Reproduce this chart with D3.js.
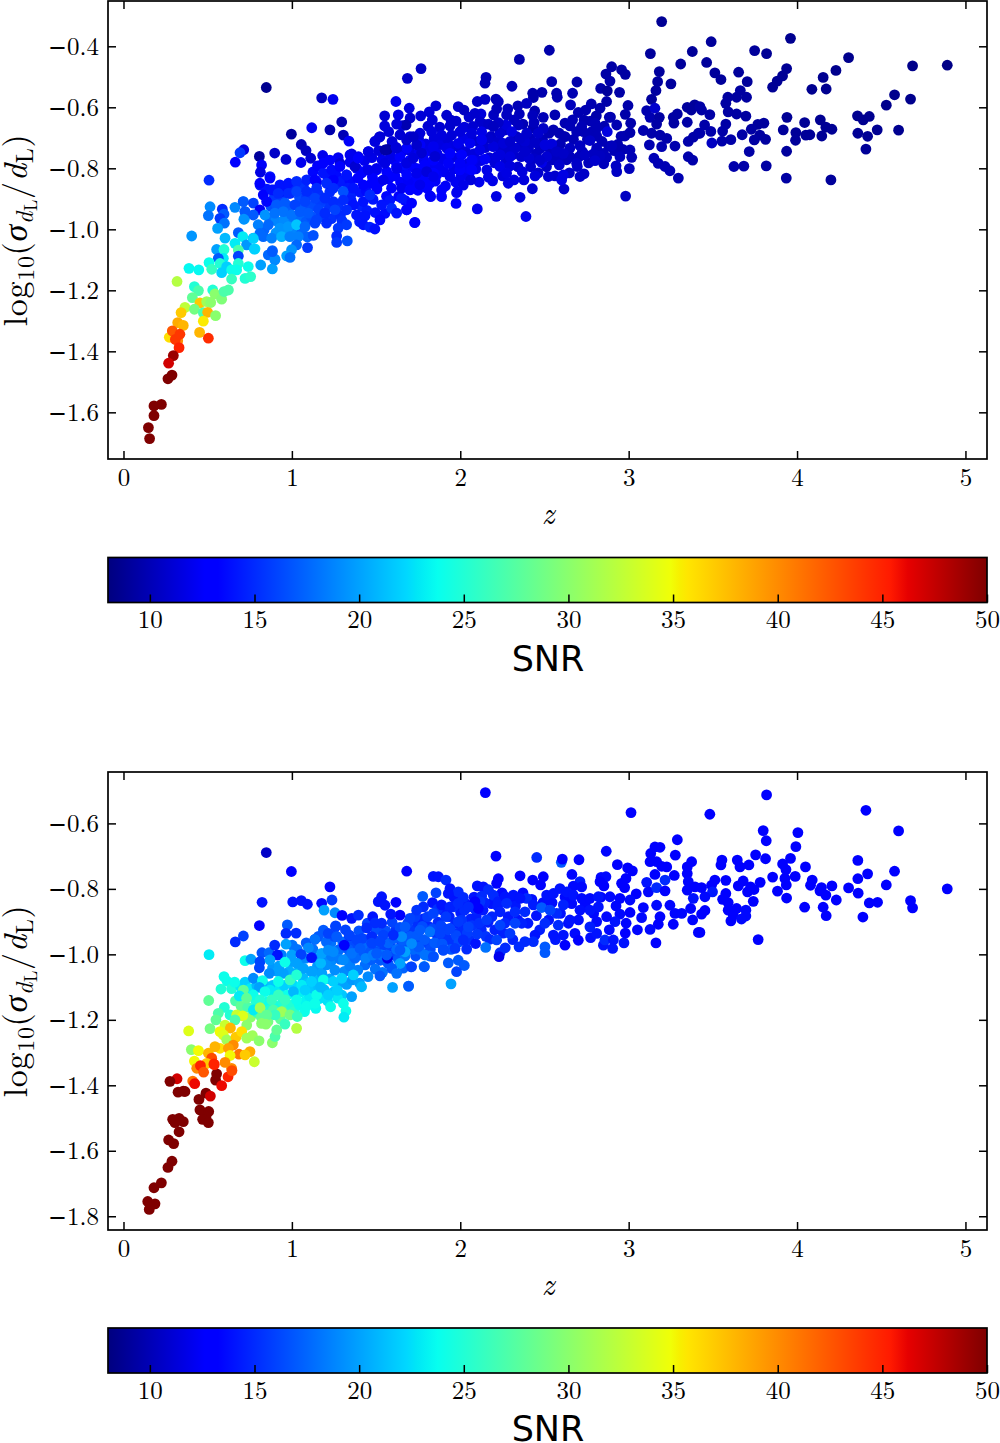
<!DOCTYPE html>
<html>
<head>
<meta charset="utf-8">
<script src="https://cdn.jsdelivr.net/npm/d3@7"></script>
<style>
  html, body { margin: 0; padding: 0; background: #fff; }
  svg { display: block; }
  text { font-family: "Latin Modern Roman", "CMU Serif", "Liberation Serif", serif; fill: #000; }
</style>
</head>
<body>
<svg id="chart" width="1000" height="1443"></svg>
<script>
// Each row: [redshift z, log10(sigma_dL / dL), SNR]. Upper panel.
const upperFar = [
[3.490,-0.385,9],[3.748,-0.414,9],[3.819,-0.424,8.8],[3.961,-0.374,8.6],[3.463,-0.453,9],[3.512,-0.487,9],[3.548,-0.509,9],
[3.653,-0.485,9],[3.704,-0.516,9],[3.938,-0.473,8.8],[3.914,-0.497,8.8],[3.882,-0.514,8.8],[3.855,-0.534,8.8],[3.663,-0.545,9.2],
[3.589,-0.567,9.2],[3.700,-0.567,9.2],[3.641,-0.567,9.2],[3.577,-0.587,9.3],[4.088,-0.541,8.6],[4.173,-0.540,8.6],[4.155,-0.502,8.6],
[4.231,-0.479,8.5],[4.306,-0.437,8.5],[4.686,-0.464,8.4],[4.892,-0.462,8.3],[4.579,-0.559,8.5],[4.674,-0.573,8.5],[4.530,-0.593,8.5],
[4.359,-0.628,8.6],[4.393,-0.641,8.6],[4.429,-0.630,8.6],[3.940,-0.633,8.8],[4.045,-0.650,8.8],[4.138,-0.641,8.7],[3.423,-0.598,9.4],
[3.433,-0.609,9.4],[3.482,-0.624,9.4],[3.591,-0.615,9.3],[3.641,-0.622,9.3],[3.696,-0.629,9.2],[3.577,-0.655,9.4],[3.451,-0.658,9.5],
[3.558,-0.678,9.5],[3.488,-0.679,9.6],[3.423,-0.685,9.6],[3.918,-0.674,9],[3.993,-0.683,8.9],[4.171,-0.665,8.8],[4.207,-0.672,8.8],
[4.147,-0.694,8.8],[4.076,-0.690,8.9],[4.052,-0.691,8.9],[3.991,-0.708,9],[3.803,-0.652,9.1],[3.767,-0.656,9.1],[3.728,-0.672,9.3],
[3.674,-0.690,9.4],[3.779,-0.691,9.2],[3.746,-0.707,9.3],[3.813,-0.705,9.2],[3.607,-0.706,9.5],[3.554,-0.711,9.6],[3.494,-0.717,10.4],
[3.716,-0.745,9.4],[3.938,-0.744,9.1],[3.625,-0.794,9.6],[3.684,-0.793,9.5],[3.817,-0.792,9.3],[3.936,-0.832,9.3],[4.201,-0.838,9],
[4.361,-0.685,8.8],[4.419,-0.695,8.8],[4.476,-0.674,8.7],[4.603,-0.675,8.6],[4.409,-0.737,8.9]
];
const upperMid = [
[3.196,-0.319,8.8],[2.529,-0.413,9.6],[2.351,-0.443,9.7],[3.129,-0.424,9],[3.378,-0.417,8.9],[3.309,-0.458,9],[1.767,-0.473,10.4],
[1.686,-0.505,10.6],[2.153,-0.502,10],[2.147,-0.521,10],[2.307,-0.531,10],[2.543,-0.516,9.7],[2.693,-0.517,9.6],[2.899,-0.467,9.4],
[2.865,-0.491,9.4],[2.958,-0.477,9.3],[2.980,-0.492,9.3],[2.889,-0.514,9.5],[3.182,-0.483,9.1],[3.172,-0.516,9.2],[3.162,-0.545,9.2],
[3.251,-0.523,9.1],[2.834,-0.538,9.5],[2.873,-0.546,9],[2.946,-0.551,9.4],[2.667,-0.554,9.8],[2.572,-0.554,9.8],[2.576,-0.567,9.8],
[2.485,-0.551,9.7],[2.430,-0.554,9.6],[2.434,-0.568,9.6],[2.394,-0.587,10.4],[2.212,-0.573,10],[2.226,-0.581,10.2],[2.147,-0.574,10.6],
[2.101,-0.581,10.5],[2.216,-0.605,10.2],[1.988,-0.598,10.8],[2.022,-0.609,10.4],[1.697,-0.603,11.4],[1.765,-0.628,11.2],[1.816,-0.615,11.2],
[1.834,-0.641,11.2],[1.919,-0.626,10.8],[1.939,-0.661,10.8],[1.678,-0.658,9.8],[2.655,-0.592,10.2],[2.778,-0.589,9.8],[2.745,-0.609,9.8],
[2.701,-0.617,9.8],[2.869,-0.581,9.5],[2.830,-0.603,9.6],[2.996,-0.594,9.5],[2.980,-0.623,9.5],[3.136,-0.574,9.1],[3.107,-0.611,9.7],
[3.156,-0.603,10.8],[3.127,-0.633,9.8],[3.182,-0.633,9.3],[3.166,-0.655,9.4],[3.289,-0.622,9.3],[3.265,-0.633,9.3],[3.269,-0.652,9.3],
[3.348,-0.600,9.1],[3.392,-0.592,9],[3.372,-0.609,9.1],[3.348,-0.649,9.4],[2.885,-0.633,9.8],[2.929,-0.658,9.8],[3.012,-0.652,9.6],
[2.800,-0.652,10],[2.667,-0.641,10],[2.651,-0.661,10],[2.721,-0.663,10],[2.493,-0.633,10],[2.430,-0.627,10.2],[2.438,-0.650,10.2],
[2.351,-0.622,10.2],[2.275,-0.625,10.4],[2.319,-0.641,10.4],[2.345,-0.658,10.4],[2.271,-0.658,11.4],[2.123,-0.622,11.4],[2.087,-0.620,10.8],
[2.117,-0.647,10.8],[2.167,-0.655,10.6],[2.226,-0.650,10.6],[2.024,-0.665,11.4],[2.074,-0.663,11],[2.553,-0.674,9.8],[2.588,-0.685,9.8],
[2.622,-0.696,9.8],[2.691,-0.680,10],[2.731,-0.680,10],[2.780,-0.680,10],[2.810,-0.669,10],[2.873,-0.680,11.5],[2.810,-0.694,10],
[2.770,-0.709,10.6],[2.978,-0.694,9.8],[3.008,-0.683,9.6],[3.087,-0.676,9.7],[3.136,-0.685,9.6],[3.186,-0.691,9.6],[3.226,-0.702,9.6],
[3.123,-0.723,9.8],[3.196,-0.729,9.8],[3.275,-0.727,9.7],[3.354,-0.712,9.6],[3.384,-0.698,9.5],[3.414,-0.685,9.5],[2.899,-0.726,10.2],
[2.810,-0.734,10.2],[2.850,-0.751,10.2],[2.711,-0.726,10.4],[2.651,-0.734,10.4],[3.008,-0.740,10],[3.018,-0.764,10],[2.948,-0.762,10.2],
[2.869,-0.764,10.2],[2.830,-0.759,10.4],[2.790,-0.753,10.4],[2.741,-0.756,10.5],[2.800,-0.775,10.8],[2.691,-0.784,10.6],[2.695,-0.794,10.6],
[2.925,-0.792,10.5],[2.929,-0.811,10.5],[3.004,-0.801,10.2],[3.150,-0.767,10],[3.176,-0.784,9.9],[3.216,-0.794,9.9],[3.245,-0.808,9.9],
[3.295,-0.832,9.8],[3.354,-0.762,9.6],[3.380,-0.773,9.6],[2.735,-0.818,10.6],[2.711,-0.827,10.6],[2.982,-0.891,10.4],[2.616,-0.868,10.8],
[2.428,-0.867,11],[2.355,-0.895,11.4],[2.390,-0.958,12],[2.214,-0.892,11.6],[2.101,-0.933,12],[1.975,-0.915,12.6],[1.824,-0.893,13.2],
[1.889,-0.893,12.8],[1.978,-0.880,12.4],[1.729,-0.978,13.6],[1.701,-0.915,14],[1.682,-0.936,13.4],[1.652,-0.898,14],[2.523,-0.827,11],
[2.612,-0.822,11.6],[2.602,-0.838,11.6],[2.444,-0.825,11.4],[2.378,-0.838,11.4],[2.368,-0.811,11.4],[2.319,-0.838,11.6],[2.285,-0.849,11.6],
[2.192,-0.841,11.8],[2.167,-0.829,11.8],[2.062,-0.838,11.4],[2.018,-0.855,11.8],[1.982,-0.876,12],[1.889,-0.871,12.6],[1.820,-0.849,12.8],
[1.741,-0.827,13],[2.408,-0.767,11],[2.483,-0.781,11.8],[2.588,-0.789,10.8],[2.147,-0.770,12.4],[2.236,-0.756,11.4],[2.236,-0.794,11.8],
[2.295,-0.792,11.4],[2.275,-0.816,11.6],[2.077,-0.773,12],[2.048,-0.800,12.4],[1.998,-0.805,12.6],[1.939,-0.827,12],[1.860,-0.822,12.4],
[1.701,-0.696,11.4],[1.761,-0.685,11.2],[1.830,-0.680,11.4],[1.889,-0.691,11.4],[1.949,-0.691,11.2],[2.018,-0.702,11.8],[2.058,-0.718,12.2],
[1.988,-0.718,12],[1.919,-0.734,11.8],[1.840,-0.729,12],[1.761,-0.723,12.4],[1.682,-0.734,12.6],[1.642,-0.762,13],[1.701,-0.773,13.4],
[1.781,-0.756,12.4],[1.840,-0.773,12.8],[1.939,-0.751,12.6],[2.008,-0.756,12.6],[2.068,-0.773,12.4],[2.117,-0.740,11.8],[2.196,-0.729,11.4],
[2.256,-0.718,11.2],[2.325,-0.734,11],[2.384,-0.712,11],[2.444,-0.716,10.6],[2.503,-0.723,11.4],[2.543,-0.720,11.4],[2.572,-0.745,10.6],
[2.612,-0.751,10.6],[2.513,-0.762,11],[2.473,-0.773,10.8],[2.384,-0.745,10.8],[2.295,-0.762,11.4],[2.216,-0.762,11.4],[2.167,-0.702,10.8],
[2.236,-0.685,11],[2.305,-0.680,11.6],[2.394,-0.685,10.8],[2.493,-0.669,10.6],[1.741,-0.800,12.8],[1.672,-0.789,13.6],[1.790,-0.789,12.6],
[1.929,-0.784,12.4],[1.998,-0.784,12.4],[2.068,-0.805,12.6],[1.840,-0.816,12.8],[1.781,-0.833,12.8],[1.682,-0.822,13.4],[2.127,-0.680,11.8],
[2.127,-0.707,12],[2.068,-0.685,11.4],[1.998,-0.680,11.4],[2.295,-0.712,10.8],[2.355,-0.702,10.8],[2.463,-0.685,10.8],[2.196,-0.663,10.4]
];
const upperDense = [
[0.848,-0.535,8.6],[1.177,-0.569,10.2],[1.244,-0.574,12],[1.296,-0.648,9.6],[1.118,-0.667,12],[1.226,-0.674,9.6],[0.997,-0.688,9],
[1.306,-0.691,10],[1.339,-0.711,12.4],[1.056,-0.722,10],[1.084,-0.742,10.4],[0.898,-0.750,10.6],[0.714,-0.739,11.4],[0.692,-0.749,15.6],
[0.664,-0.780,13],[0.807,-0.761,9],[0.965,-0.771,10.8],[0.820,-0.789,12.4],[0.813,-0.813,11.6],[1.054,-0.781,12],[1.112,-0.767,11],
[1.183,-0.758,12],[1.226,-0.773,12.6],[1.286,-0.784,11.4],[1.355,-0.753,11.4],[1.395,-0.762,12],[1.454,-0.745,11.8],[1.494,-0.712,11],
[1.519,-0.698,10.8],[1.551,-0.628,11],[1.551,-0.661,11.4],[1.618,-0.581,12],[1.632,-0.625,11.6],[1.622,-0.655,11.4],[1.567,-0.738,9.2],
[1.618,-0.731,11.4],[0.508,-0.839,15],[0.870,-0.827,14],[0.811,-0.855,14],[0.890,-0.871,13.6],[0.939,-0.876,14],[0.989,-0.882,15],
[1.048,-0.860,15.4],[1.088,-0.893,15.6],[1.147,-0.844,13],[1.207,-0.849,13],[1.246,-0.838,13],[1.325,-0.822,14],[1.385,-0.800,12.6],
[1.444,-0.805,13],[1.503,-0.805,12.6],[1.563,-0.811,13],[1.622,-0.794,12.6],[0.514,-0.926,19],[0.504,-0.955,18],[0.587,-0.934,15],
[0.597,-0.950,17],[0.573,-0.964,15.6],[0.599,-0.980,18],[0.559,-0.997,20],[0.662,-0.928,19],[0.712,-0.909,19],[0.722,-0.942,17],
[0.718,-0.966,21],[0.682,-1.011,17],[0.405,-1.022,19.5],[0.603,-1.029,21],[0.708,-1.024,23],
[0.810,-0.849,13],[0.870,-0.832,12.6],[0.929,-0.854,14],[0.979,-0.849,14],[1.028,-0.843,15],[1.087,-0.838,14.6],[1.137,-0.838,13],
[1.186,-0.816,14],[1.236,-0.805,13.6],[1.285,-0.794,13],[1.325,-0.822,14],[1.374,-0.794,11],[1.454,-0.805,12],[1.503,-0.800,12],
[1.553,-0.783,11.6],[1.622,-0.800,12],[1.681,-0.783,11.6],[1.741,-0.816,12],[1.800,-0.811,11.4],[1.840,-0.827,12],
[0.830,-0.887,13],[0.880,-0.871,14],[0.919,-0.882,15],[0.979,-0.882,15],[1.028,-0.876,16],[1.087,-0.876,15],[1.147,-0.865,15],
[1.206,-0.849,15],[1.246,-0.865,15],[1.305,-0.876,16.6],[1.365,-0.865,14],[1.424,-0.854,13],[1.473,-0.849,13],[1.543,-0.838,12],
[1.592,-0.865,13],[1.652,-0.865,12],[1.701,-0.871,13],[1.760,-0.854,12],
[0.711,-0.909,17],[0.771,-0.914,16],[0.810,-0.936,12.4],[0.850,-0.909,13.4],[0.909,-0.920,17],[0.959,-0.914,17],[1.018,-0.920,16],
[1.078,-0.909,16],[1.137,-0.898,16],[1.196,-0.898,15],[1.246,-0.909,15],[1.305,-0.904,15],[1.365,-0.920,14],[1.424,-0.909,14],
[1.463,-0.887,15],[1.533,-0.920,14],[1.592,-0.931,15],[1.622,-0.947,14],[1.681,-0.936,13],[1.711,-0.914,13],[1.820,-0.890,12.4],
[0.721,-0.942,17],[0.771,-0.953,17],[0.840,-0.953,19.4],[0.899,-0.947,18],[0.949,-0.942,18],[0.998,-0.953,18],[1.048,-0.942,17],
[1.097,-0.947,17],[1.147,-0.969,16],[1.196,-0.947,15],[1.256,-0.936,16],[1.325,-0.936,15],[1.384,-0.953,14],[1.434,-0.956,14],
[1.523,-0.969,13.4],[1.731,-0.977,12.6],
[0.715,-0.967,19.4],[0.800,-0.985,18.6],[0.860,-0.985,17.6],[0.929,-0.996,19.4],[0.979,-0.991,19.6],[1.028,-0.985,21.5],[1.078,-0.991,17.6],
[1.137,-0.980,16],[1.206,-0.980,15],[1.275,-0.996,15.6],[1.325,-0.985,15.6],[1.424,-0.985,14],[1.463,-0.993,14.6],[1.493,-0.999,13.8],
[0.771,-1.029,20],[0.830,-1.024,17.6],[0.880,-1.029,18.6],[0.939,-1.024,20.6],[0.988,-1.024,18.6],[1.038,-1.024,18.6],[1.127,-1.020,16.6],
[1.266,-1.022,15],[0.731,-1.051,19.6],[0.810,-1.013,17.6],[1.028,-1.051,17.6],[1.266,-1.043,15.6],[1.329,-1.038,16.6],[1.093,-1.060,15.6],
[0.781,-1.064,23],[0.884,-1.070,17.6],[0.860,-1.084,17.6],[0.998,-1.067,19.4],[0.969,-1.087,20],[0.899,-1.100,18.6],
[1.186,-0.783,13],[1.345,-0.756,12],[1.394,-0.767,12.6],[1.454,-0.745,11.6],[1.493,-0.712,11.4],[1.523,-0.696,11.2],[1.553,-0.740,9.4],
[1.622,-0.734,11.2],[1.681,-0.707,10.8],[1.741,-0.723,10.8],[1.770,-0.750,11],[1.850,-0.761,11],[1.721,-0.767,11.4],[1.642,-0.690,11],[1.721,-0.696,10.6]
];
// Sources packed inside the crowded upper band, z below about 1.2.
const upperCrowdNear = [
[0.852,-0.868,14],[0.895,-0.895,15.5],[0.942,-0.905,16],[0.965,-0.868,14.6],[1.005,-0.862,15],[1.045,-0.895,16.4],[1.068,-0.858,14.8],
[1.112,-0.882,15.4],[1.158,-0.885,15.2],[1.172,-0.905,15.8],[0.875,-0.925,16.6],[0.925,-0.935,17.4],[0.985,-0.925,17.2],[1.032,-0.918,16.4],
[1.065,-0.932,17],[1.112,-0.925,16.4],[1.158,-0.935,16],[0.868,-0.965,18.2],[0.905,-0.972,18.8],[0.955,-0.968,19],[1.012,-0.972,18.4],
[1.048,-0.965,17.6],[1.085,-0.975,17],[1.115,-0.958,16.6],[0.835,-1.002,17.4],[0.905,-1.012,19.4],[0.962,-1.008,19.6],[1.005,-1.005,18.8],
[1.058,-1.012,17.6],[1.092,-1.025,17.4]
];
// Same band from z about 1.1 to 1.7.
const upperCrowdCentre = [
[1.125,-0.812,13.4],[1.152,-0.792,12.6],[1.215,-0.832,14],[1.262,-0.822,13.6],[1.268,-0.852,14.4],[1.295,-0.842,14.2],[1.345,-0.842,13.6],
[1.352,-0.885,14.6],[1.392,-0.832,13.2],[1.405,-0.878,14],[1.415,-0.925,14.6],[1.442,-0.875,13.6],[1.478,-0.828,12.8],[1.482,-0.902,14],
[1.505,-0.868,13.2],[1.522,-0.845,13],[1.535,-0.772,12],[1.562,-0.892,13.4],[1.575,-0.835,12.6],[1.582,-0.905,14],[1.605,-0.772,12],
[1.612,-0.825,12.6],[1.635,-0.892,13.2],[1.645,-0.845,12.6],[1.665,-0.802,12.4],[1.672,-0.905,13.4],[1.692,-0.842,12.4],[1.225,-0.878,15],
[1.275,-0.925,15.2],[1.222,-0.925,15.4],[1.172,-0.958,15.6],[1.235,-0.965,15.2],[1.288,-0.955,15],[1.298,-0.972,15.2],[1.352,-0.905,14.4],
[1.402,-0.975,14.2],[1.445,-0.938,14.2],[1.495,-0.945,13.8],[1.552,-0.948,13.6],[1.168,-0.915,16],[1.332,-0.865,14.2],[1.415,-0.815,12.8],
[1.345,-0.78,12.2],[1.275,-0.765,12.2],[1.432,-0.775,12],[1.475,-0.765,11.8],[1.515,-0.742,11.4],[1.595,-0.712,11.2],[1.585,-0.755,11.8],
[1.655,-0.745,11.6],[1.695,-0.74,11.6],[1.575,-0.68,11.2],[1.655,-0.66,11],[1.702,-0.635,10.8]
];
// Same band from z about 1.7 to 3.
const upperCrowdFar = [
[1.715,-0.795,12.6],[1.728,-0.848,12.8],[1.735,-0.755,12],[1.748,-0.872,13],[1.752,-0.702,11.2],[1.772,-0.812,12.4],[1.785,-0.775,12.2],
[1.795,-0.72,11.6],[1.802,-0.865,12.8],[1.808,-0.662,11],[1.815,-0.742,11.8],[1.825,-0.795,12.2],[1.845,-0.702,11.4],[1.852,-0.842,12.4],
[1.862,-0.752,12],[1.872,-0.795,12.2],[1.878,-0.665,11],[1.885,-0.722,11.6],[1.895,-0.768,12],[1.905,-0.812,12.2],[1.912,-0.858,12.4],
[1.925,-0.705,11.2],[1.935,-0.772,12],[1.945,-0.642,10.8],[1.955,-0.728,11.6],[1.962,-0.802,12],[1.972,-0.845,12.2],[1.982,-0.765,11.8],
[1.995,-0.732,11.4],[2.005,-0.825,12],[2.015,-0.668,11],[2.032,-0.745,11.4],[2.042,-0.785,11.8],[2.052,-0.828,12],[2.062,-0.695,11],
[2.082,-0.752,11.4],[2.092,-0.802,11.8],[2.105,-0.712,11],[2.112,-0.845,12],[2.122,-0.775,11.6],[2.138,-0.655,10.6],[2.148,-0.732,11],
[2.158,-0.805,11.8],[2.172,-0.765,11.2],[2.182,-0.695,10.6],[2.205,-0.782,11.2],[2.218,-0.715,10.8],[2.242,-0.742,10.8],[2.252,-0.825,11.4],
[2.262,-0.675,10.4],[2.272,-0.778,11],[2.288,-0.728,10.6],[2.312,-0.755,10.8],[2.332,-0.695,10.4],[2.342,-0.795,11],[2.362,-0.762,10.8],
[2.372,-0.655,10],[2.405,-0.735,10.6],[2.418,-0.795,10.8],[2.432,-0.668,10],[2.452,-0.752,10.4],[2.462,-0.815,10.8],[2.488,-0.705,10.2],
[2.512,-0.795,10.6],[2.528,-0.685,10],[2.548,-0.772,10.4],[2.562,-0.825,10.8],[2.595,-0.72,10],[2.632,-0.772,10.2],[2.648,-0.815,10.6],
[2.672,-0.705,10],[2.725,-0.745,10],[2.762,-0.782,10.2],[2.772,-0.645,9.8],[2.842,-0.712,10],[2.852,-0.785,10.2],[2.915,-0.742,10],
[2.955,-0.695,9.8],[2.892,-0.632,9.6]
];
// Top edge of the band and the thinner stretch past z = 2.2.
const upperCrowdRim = [
[2.232,-0.712,10.8],[2.275,-0.745,10.8],[2.358,-0.728,10.6],[2.415,-0.702,10.4],[2.438,-0.768,10.6],[2.475,-0.735,10.4],[2.535,-0.742,10.4],
[2.582,-0.775,10.4],[2.612,-0.695,10],[2.652,-0.762,10.2],[2.705,-0.762,10.2],[2.755,-0.705,10],[2.815,-0.752,10],[2.882,-0.728,10],
[2.935,-0.722,9.8],[2.965,-0.738,9.8],[2.442,-0.612,9.8],[2.562,-0.625,9.8],[2.622,-0.652,9.8],[2.735,-0.642,9.8],[2.808,-0.628,9.6],
[2.855,-0.662,9.8],[2.342,-0.595,10],[2.282,-0.605,10.2],[2.052,-0.632,10.8],[1.855,-0.595,11],[1.975,-0.645,10.8],[2.198,-0.625,10.4]
];
const upperLow = [
[0.662,-1.046,23],[0.771,-1.030,22],[0.777,-1.065,22],[0.553,-1.066,20],[0.597,-1.066,25],[0.682,-1.068,27],[0.593,-1.095,23],
[0.563,-1.095,17],[0.682,-1.088,16],[0.508,-1.109,24],[0.389,-1.128,23.5],[0.447,-1.133,23.5],[0.524,-1.131,26],[0.573,-1.112,25],
[0.583,-1.142,22],[0.613,-1.122,22],[0.642,-1.133,24],[0.682,-1.112,25],[0.741,-1.122,24],[0.672,-1.133,24],[0.642,-1.163,26],
[0.722,-1.161,25],[0.755,-1.155,25.5],[0.815,-1.117,20],[0.884,-1.130,20],[0.900,-1.098,19],[0.884,-1.073,17],[0.989,-1.092,18],
[0.318,-1.171,32],[0.421,-1.188,25],[0.445,-1.201,27],[0.530,-1.199,25],[0.409,-1.224,28],[0.543,-1.212,30],[0.583,-1.229,29.5],
[0.597,-1.204,27],[0.623,-1.199,27],[0.454,-1.241,37],[0.494,-1.237,31],[0.518,-1.240,30],[0.365,-1.256,32.5],[0.421,-1.262,29],
[0.342,-1.273,37],[0.474,-1.273,27],[0.500,-1.272,38],[0.547,-1.283,30],[0.474,-1.301,35.5],[0.322,-1.306,38.5],[0.355,-1.315,38],
[0.452,-1.338,38],[0.272,-1.354,36],[0.290,-1.333,42.5],[0.322,-1.365,40],[0.308,-1.361,44],[0.335,-1.344,44],[0.504,-1.357,44.5],
[0.330,-1.388,45],[0.296,-1.414,49],[0.268,-1.439,47],[0.288,-1.478,50],[0.264,-1.490,50],[0.225,-1.574,50],[0.181,-1.579,50],
[0.181,-1.611,50],[0.148,-1.650,50],[0.155,-1.686,50]
];

// Same sources, lower panel.
const lowerFar = [
[3.819,-0.513,13],[3.482,-0.572,13],[4.409,-0.560,13],[4.603,-0.623,13],[3.799,-0.622,13],[4.005,-0.628,13],[3.817,-0.653,13],
[3.993,-0.671,13],[3.754,-0.696,13],[3.813,-0.708,13],[3.961,-0.707,13],[3.914,-0.724,13],[3.934,-0.741,13],[3.554,-0.712,13],
[3.548,-0.727,13],[3.645,-0.712,13],[3.661,-0.733,13],[3.714,-0.727,13],[4.050,-0.733,13],[4.361,-0.713,13],[4.579,-0.746,13],
[4.419,-0.754,13],[4.361,-0.769,13],[3.855,-0.764,13],[3.989,-0.762,13],[3.928,-0.768,13],[3.936,-0.788,13],[4.090,-0.773,13],
[4.080,-0.789,13.2],[4.207,-0.791,13],[4.145,-0.796,13],[4.136,-0.806,13],[4.171,-0.819,13],[4.306,-0.797,13],[4.530,-0.788,13],
[4.363,-0.813,13],[4.892,-0.800,13],[4.233,-0.834,13],[4.674,-0.836,13],[4.686,-0.858,13],[4.429,-0.843,13],[4.478,-0.841,13],
[4.155,-0.856,13],[4.173,-0.882,13],[4.391,-0.886,13],[4.045,-0.856,13],[3.938,-0.828,13],[3.884,-0.807,13],[3.781,-0.780,13],
[3.744,-0.802,13],[3.706,-0.809,13],[3.724,-0.794,13],[3.680,-0.776,13],[3.651,-0.791,13],[3.577,-0.774,13],[3.512,-0.773,13.2],
[3.492,-0.789,13.2],[3.498,-0.809,14.2],[3.453,-0.824,13.6],[3.433,-0.796,13.2],[3.577,-0.814,13],[3.558,-0.832,13.2],[3.591,-0.842,13],
[3.740,-0.838,13],[3.641,-0.860,13],[3.591,-0.865,13],[3.621,-0.880,13],[3.696,-0.865,13.6],[3.696,-0.883,13.6],[3.670,-0.892,13.6],
[3.607,-0.898,13],[3.453,-0.866,13.2],[3.433,-0.877,13.2],[3.423,-0.933,13],[3.769,-0.955,13]
];
const lowerMid = [
[2.149,-0.506,12.8],[3.014,-0.567,13],[2.212,-0.700,12.8],[2.600,-0.719,17],[2.454,-0.704,15],[2.606,-0.709,13],[2.705,-0.711,13],
[2.867,-0.685,13.4],[3.289,-0.650,13],[3.156,-0.672,13],[3.186,-0.673,13],[3.131,-0.692,13],[3.277,-0.697,13],[3.374,-0.717,13],
[3.348,-0.733,13],[3.127,-0.717,13],[3.166,-0.717,13],[3.196,-0.731,13],[3.226,-0.733,13],[3.348,-0.753,13],[3.271,-0.759,13],
[3.156,-0.756,13],[2.933,-0.726,13],[2.994,-0.736,13],[3.022,-0.745,13],[2.663,-0.756,13.4],[2.355,-0.760,13],[2.226,-0.769,13],
[2.216,-0.783,13],[2.493,-0.763,13],[2.430,-0.773,13],[2.477,-0.788,13],[1.682,-0.746,13],[1.840,-0.762,14],[1.870,-0.763,14],
[1.915,-0.773,15],[1.856,-0.812,16],[1.777,-0.823,17],[2.711,-0.778,14.4],[2.671,-0.792,13.6],[2.721,-0.794,13.6],[2.836,-0.765,13.6],
[2.865,-0.763,13.6],[2.830,-0.778,13.2],[2.853,-0.791,13.2],[2.984,-0.768,13],[2.958,-0.783,13],[2.976,-0.796,13],[3.107,-0.780,14],
[3.216,-0.773,15],[3.117,-0.809,13.4],[3.166,-0.796,15],[3.216,-0.806,13.2],[3.354,-0.778,13.4],[3.348,-0.804,13.4],[3.394,-0.794,13.2],
[3.384,-0.829,14],[2.101,-0.791,14],[2.137,-0.794,14],[2.167,-0.802,15],[2.196,-0.819,15],[2.127,-0.822,15],[2.117,-0.839,15.4],
[2.107,-0.860,13],[2.087,-0.839,13],[1.939,-0.799,14],[1.988,-0.809,15],[1.929,-0.814,14],[2.018,-0.826,15],[1.889,-0.849,14],
[1.939,-0.855,14.6],[1.988,-0.844,15],[2.048,-0.855,15],[1.840,-0.875,16],[1.781,-0.855,15],[1.741,-0.865,15.4],[1.701,-0.890,16],
[1.642,-0.880,13],[2.226,-0.839,14.4],[2.266,-0.824,14],[2.315,-0.819,14],[2.394,-0.829,15],[2.355,-0.829,14],[2.275,-0.844,15],
[2.236,-0.870,14.6],[2.325,-0.870,15],[2.384,-0.870,15],[2.434,-0.849,14.4],[2.483,-0.857,17],[2.513,-0.819,14],[2.553,-0.814,14],
[2.592,-0.799,14],[2.632,-0.809,14],[2.671,-0.819,14],[2.721,-0.829,13.6],[2.770,-0.829,13.6],[2.820,-0.824,14],[2.889,-0.824,13.6],
[2.948,-0.829,13.4],[3.008,-0.834,13.6],[3.087,-0.857,13.4],[3.008,-0.872,13],[3.077,-0.888,13.6],[3.166,-0.850,13.6],[3.186,-0.885,13.4],
[3.245,-0.850,13.4],[3.275,-0.875,13.4],[3.315,-0.875,13.4],[3.368,-0.860,13.4],[3.380,-0.895,13.4],[3.414,-0.933,13.4],[3.127,-0.924,13.6],
[3.176,-0.908,13.2],[3.265,-0.908,13.2],[3.162,-0.965,13.2],[2.948,-0.877,13.6],[2.919,-0.900,14],[2.869,-0.885,13.6],[2.810,-0.900,13.6],
[2.820,-0.855,14],[2.770,-0.865,14],[2.711,-0.865,13.8],[2.651,-0.895,14],[2.612,-0.849,14.6],[2.572,-0.875,15],[2.533,-0.865,16],
[2.503,-0.905,15],[2.582,-0.911,15],[2.553,-0.941,14],[2.612,-0.941,14],[2.681,-0.936,13.6],[2.701,-0.957,13],[2.774,-0.949,13.8],
[2.810,-0.936,14],[2.770,-0.916,14.4],[2.850,-0.972,14],[2.859,-0.956,15],[2.909,-0.956,14],[2.905,-0.982,14],[2.972,-0.965,14],
[2.980,-0.935,13.2],[2.622,-0.972,13],[2.444,-0.941,14],[2.434,-0.961,15],[2.384,-0.961,15],[2.349,-0.977,15],[2.503,-0.977,17],
[2.503,-0.995,17],[2.157,-0.895,15.6],[2.295,-0.936,15.6],[2.325,-0.905,16],[2.236,-0.911,16],[2.176,-0.954,15],[2.216,-0.956,16],
[2.151,-0.979,18],[2.267,-0.980,15],[2.236,-0.995,15],[2.230,-1.007,12],[2.091,-0.967,14],[2.101,-0.938,15.6],[2.038,-0.984,15],
[2.018,-0.956,15],[1.969,-0.982,15.6],[1.899,-0.987,16],[1.840,-1.007,18],[1.929,-1.026,17],[1.988,-1.018,17],[2.024,-1.034,17],
[1.978,-1.053,16],[1.945,-1.090,20],[1.693,-1.097,20],[1.785,-1.037,19],[1.707,-1.038,17],[1.751,-0.977,17],[1.790,-1.002,18],
[1.711,-0.967,19],[1.672,-0.992,20],[1.820,-0.931,18],[1.761,-0.926,17],[1.880,-0.936,16],[1.939,-0.921,16],[1.988,-0.900,15.6],
[2.048,-0.916,16],[1.672,-0.916,17],[1.652,-0.946,19],[1.642,-1.028,20]
];
const lowerDense = [
[0.848,-0.689,10.6],[0.997,-0.747,13],[1.226,-0.794,13],[1.238,-0.834,15.6],[0.823,-0.841,14],[1.005,-0.840,14],[1.056,-0.836,14],
[1.092,-0.847,14],[1.177,-0.844,13.6],[1.191,-0.865,20],[1.256,-0.873,19],[1.298,-0.881,13],[1.355,-0.890,14],[1.395,-0.880,15],
[1.533,-0.824,14],[1.513,-0.839,14],[1.553,-0.850,14],[1.618,-0.841,13],[1.587,-0.877,14],[1.480,-0.885,14],[1.533,-0.905,15],
[1.494,-0.904,15],[1.444,-0.919,15],[0.807,-0.912,13],[0.973,-0.910,17],[1.260,-0.915,15],[0.965,-0.936,15],[1.025,-0.935,15],
[0.712,-0.944,16],[0.664,-0.962,15],[0.898,-0.972,15],[0.965,-0.969,20],[1.341,-0.943,15],[1.137,-0.954,16],[1.187,-0.926,17],
[1.216,-0.936,16],[1.262,-0.944,16],[1.098,-0.980,19],[1.311,-0.972,13],[1.418,-0.951,16],[1.474,-0.946,15],[1.543,-0.941,16],
[1.602,-0.941,15],[0.508,-1.001,23],[0.914,-1.002,14],[0.722,-1.019,24],[0.757,-1.015,20],[0.811,-1.022,16],[0.807,-1.041,16],
[0.870,-1.017,20],[0.999,-1.002,20],[1.054,-1.000,16],[1.117,-1.010,14],[1.137,-0.954,18],[1.260,-0.913,16],[1.266,-0.946,17],
[1.341,-0.941,16],[1.567,-1.012,12],[0.866,-1.058,19],[0.949,-1.058,20],[0.959,-1.024,24],[1.028,-1.027,20],[1.068,-1.043,20],
[1.121,-1.053,20],[1.171,-1.027,21],[1.177,-0.997,20],[1.216,-0.987,19],[1.246,-0.992,19],[1.306,-1.017,19],[1.355,-0.997,18],
[1.385,-0.956,16],[1.405,-0.982,17],[1.474,-0.966,16],[1.503,-0.997,17],[1.523,-0.961,16],[1.642,-0.987,17],[1.711,-1.038,16],
[1.787,-1.038,17],[1.840,-1.007,16.6],[1.899,-0.987,16.4],[1.598,-1.101,20],[1.693,-1.097,17],[1.523,-1.066,17],[1.593,-1.043,17],
[1.622,-1.058,18],[1.563,-1.002,17],[0.597,-1.068,24],[0.660,-1.085,24],[0.579,-1.106,25],[0.506,-1.141,28],[0.771,-1.073,19],
[0.825,-1.080,24],[0.712,-1.109,28],[0.688,-1.127,23],[0.870,-1.109,23],[0.807,-1.101,20],[0.920,-1.083,24],[0.989,-1.078,26],
[1.028,-1.063,25],[1.058,-1.094,23],[1.117,-1.083,22],[1.187,-1.078,24],[1.246,-1.083,22],[1.296,-1.073,22],[1.365,-1.063,22],
[1.414,-1.099,21],[1.355,-1.129,20],[1.272,-1.134,23],[1.216,-1.124,22],[1.147,-1.124,24],[1.078,-1.109,22],[1.009,-1.114,21],
[0.920,-1.124,26],[0.840,-1.114,24],[0.771,-1.124,24],[0.731,-1.134,28],[0.811,-1.139,25],[0.880,-1.139,26],[0.959,-1.139,26],
[1.028,-1.139,24],[1.088,-1.158,24],[1.137,-1.150,24],[1.306,-1.150,24],[1.321,-1.173,24],[1.309,-1.192,23],[1.230,-1.160,24],
[1.270,-1.110,22],[1.170,-1.100,21]
];
// Crowded lower band, z up to about 1.4 and below -1.05.
const lowerCrowdNear = [
[0.615,-1.082,24],[0.642,-1.105,25],[0.665,-1.142,27],[0.695,-1.098,23],[0.698,-1.158,28],[0.722,-1.085,22],[0.738,-1.162,27],
[0.752,-1.105,23],[0.755,-1.192,30],[0.785,-1.142,25],[0.792,-1.095,21],[0.795,-1.178,26],[0.818,-1.192,28],[0.825,-1.152,25],
[0.848,-1.098,21],[0.855,-1.145,24],[0.858,-1.205,29],[0.872,-1.168,25],[0.885,-1.095,21.6],[0.895,-1.122,24],[0.905,-1.158,24.4],
[0.915,-1.052,20],[0.928,-1.105,23],[0.932,-1.198,28],[0.945,-1.145,25],[0.955,-1.095,22],[0.965,-1.165,26],[0.972,-1.125,24],
[0.985,-1.052,20.6],[0.998,-1.155,25],[1.005,-1.092,22.4],[1.012,-1.175,25.6],[1.022,-1.125,23.4],[1.035,-1.055,20.6],[1.045,-1.155,24],
[1.052,-1.115,23.2],[1.065,-1.072,21],[1.075,-1.175,24],[1.082,-1.142,23.4],[1.095,-1.088,21.4],[1.105,-1.128,23],[1.112,-1.052,20.4],
[1.128,-1.105,21.6],[1.135,-1.072,21],[1.142,-1.165,23.6],[1.152,-1.035,19.6],[1.158,-1.098,21.2],[1.165,-1.135,22.6],[1.178,-1.058,20],
[1.192,-1.108,21],[1.205,-1.032,19.2],[1.212,-1.142,22.6],[1.225,-1.075,20.2],[1.235,-1.005,18.4],[1.248,-1.115,21.4],[1.255,-1.048,19.2],
[1.278,-1.088,20.2],[1.285,-1.015,18.4],[1.298,-1.125,21.6],[1.312,-1.052,19],[1.325,-1.092,20],[1.335,-0.985,17],[1.345,-1.035,18.6],
[1.358,-1.078,19.6],[1.375,-1.012,17.6],[1.392,-1.048,18.6],[1.402,-1.088,20]
];
const lowerCrowdUpper = [
[0.822,-0.995,16.6],[0.865,-0.995,17.6],[0.885,-1.042,19.6],[0.925,-1.035,20],[0.938,-1.002,18.6],[0.985,-1.025,20],[1.002,-0.972,18],
[1.032,-0.985,18],[1.045,-1.025,19.6],[1.082,-1.012,19],[1.085,-0.965,17],[1.125,-0.985,18],[1.158,-0.945,17],[1.162,-1.012,18.8],
[1.205,-0.962,17.6],[1.232,-1.022,19],[1.252,-0.945,16.6],[1.282,-0.985,17.6],[1.318,-0.925,16],[1.322,-1.018,18.4],[1.365,-0.965,16.4]
];
// Crowded lower band, z from about 1.4 to 3.
const lowerCrowdFar = [
[1.412,-1.002,17],[1.428,-0.965,16],[1.435,-1.032,17.8],[1.452,-1.068,19],[1.462,-0.992,16.8],[1.472,-1.018,17.2],[1.488,-0.955,16],
[1.495,-1.045,18],[1.512,-0.985,16.4],[1.525,-1.018,17],[1.538,-1.055,18],[1.548,-0.972,16],[1.572,-1.028,17],[1.585,-0.975,16],
[1.608,-1.002,16.4],[1.618,-0.925,15.4],[1.632,-1.015,17],[1.652,-0.965,16],[1.662,-1.042,17.4],[1.675,-0.935,15.6],[1.692,-0.985,16.4],
[1.722,-0.925,15.6],[1.735,-1.005,16.6],[1.748,-0.905,15.2],[1.765,-0.955,16],[1.778,-0.892,14.8],[1.802,-0.965,16],[1.812,-0.915,15],
[1.822,-0.985,16.4],[1.835,-0.842,14],[1.852,-0.935,15.4],[1.868,-0.902,15],[1.878,-0.965,15.6],[1.895,-0.865,14.4],[1.905,-0.922,15.2],
[1.922,-0.952,15.4],[1.935,-0.885,14.6],[1.952,-0.965,15.4],[1.962,-0.825,14],[1.972,-0.905,14.8],[1.985,-0.935,15.2],[2.002,-0.872,14.4],
[2.015,-0.925,15],[2.032,-0.845,14.2],[2.055,-0.955,15.2],[2.062,-0.892,14.6],[2.082,-0.825,14],[2.095,-0.885,14.4],[2.125,-0.925,14.8],
[2.135,-0.865,14.2],[2.165,-0.902,14.4],[2.185,-0.845,14],[2.205,-0.925,14.6],[2.248,-0.812,13.6],[2.255,-0.935,14.6],[2.285,-0.885,14.2],
[2.305,-0.832,13.8],[2.312,-0.955,14.6],[2.342,-0.895,14],[2.372,-0.812,13.6],[2.402,-0.905,14.2],[2.425,-0.832,13.8],[2.452,-0.882,14],
[2.472,-0.925,14.4],[2.492,-0.842,13.8],[2.525,-0.895,14],[2.545,-0.842,13.8],[2.565,-0.955,14.2],[2.595,-0.875,14],[2.622,-0.825,13.6],
[2.642,-0.905,13.8],[2.662,-0.845,13.6],[2.702,-0.895,13.8],[2.742,-0.845,13.6],[2.792,-0.875,13.6],[2.835,-0.825,13.4],[2.885,-0.925,13.6],
[2.925,-0.852,13.4],[2.985,-0.905,13.4],[3.045,-0.815,13.2],[3.052,-0.925,13.4]
];
// Paler sources filling the band between z about 1.2 and 2.4.
const lowerCrowdPale = [
[1.205,-1.002,19],[1.232,-0.965,18],[1.268,-1.005,19],[1.302,-0.962,17.6],[1.332,-1.012,18.6],[1.352,-0.952,17],[1.378,-0.985,18],
[1.398,-0.928,16.6],[1.418,-0.972,17.6],[1.438,-1.012,18.6],[1.448,-0.905,16],[1.465,-0.952,17.4],[1.482,-1.002,18.4],[1.498,-0.925,16.6],
[1.515,-0.962,17.4],[1.532,-1.002,18],[1.558,-0.928,16.6],[1.572,-0.965,17.4],[1.595,-0.902,16],[1.605,-0.952,17.2],[1.622,-0.985,17.8],
[1.642,-0.918,16.4],[1.658,-0.958,17.2],[1.672,-1.005,18],[1.688,-0.905,16],[1.702,-0.945,17],[1.718,-0.985,17.6],[1.732,-0.885,15.8],
[1.745,-0.942,17],[1.758,-0.985,17.6],[1.775,-0.915,16.4],[1.788,-0.955,17],[1.805,-0.885,15.8],[1.818,-1.005,17.6],[1.835,-0.922,16.2],
[1.848,-0.965,17],[1.865,-0.862,15.2],[1.885,-0.912,16],[1.892,-0.968,16.8],[1.915,-0.885,15.6],[1.928,-0.925,16],[1.945,-0.985,16.8],
[1.958,-0.855,15],[1.975,-0.942,16.2],[1.992,-0.962,16.4],[2.008,-0.895,15.4],[2.025,-0.865,15],[2.042,-0.935,15.8],[2.072,-0.912,15.4],
[2.088,-0.862,14.8],[2.112,-0.905,15.2],[2.145,-0.842,14.6],[2.152,-0.945,15.4],[2.188,-0.885,14.8],[2.222,-0.852,14.4],[2.265,-0.905,14.8],
[2.328,-0.852,14.2],[2.365,-0.905,14.6]
];
const lowerLow = [
[0.599,-1.162,25],[0.771,-1.170,23],[0.811,-1.163,31],[0.890,-1.170,27],[0.939,-1.175,31],[0.989,-1.185,29],[1.032,-1.190,26],
[0.959,-1.213,26],[1.028,-1.226,32],[0.900,-1.185,26],[0.850,-1.185,28],[0.563,-1.180,27],[0.549,-1.200,28],[0.514,-1.227,29],
[0.633,-1.185,25],[0.672,-1.185,33],[0.708,-1.188,34],[0.732,-1.216,30],[0.662,-1.200,27],[0.603,-1.216,33],[0.635,-1.225,38],
[0.573,-1.236,35],[0.593,-1.246,34],[0.613,-1.261,31],[0.668,-1.253,37],[0.702,-1.236,36],[0.732,-1.256,31],[0.765,-1.248,31],
[0.805,-1.264,30],[0.884,-1.270,30],[0.900,-1.251,27],[0.910,-1.231,28],[0.820,-1.211,30],[0.846,-1.213,30],[0.387,-1.234,34],
[0.403,-1.291,30],[0.573,-1.287,36],[0.543,-1.282,38],[0.652,-1.277,40],[0.623,-1.287,39],[0.751,-1.297,38.5],[0.686,-1.305,41],
[0.633,-1.309,35],[0.722,-1.307,37],[0.777,-1.328,33],[0.445,-1.294,35],[0.504,-1.302,38],[0.524,-1.317,43],[0.421,-1.326,35],
[0.494,-1.333,37],[0.537,-1.335,45],[0.603,-1.330,40],[0.642,-1.348,40],[0.435,-1.348,40],[0.457,-1.340,45],[0.476,-1.360,42.5],
[0.411,-1.387,41],[0.423,-1.395,46],[0.318,-1.380,47],[0.276,-1.388,50],[0.355,-1.418,50],[0.324,-1.421,50],[0.365,-1.419,50],
[0.490,-1.424,50],[0.448,-1.443,50],[0.516,-1.433,47],[0.553,-1.365,50],[0.547,-1.384,50],[0.621,-1.374,45],[0.644,-1.355,43],
[0.583,-1.401,46],[0.539,-1.337,45],[0.454,-1.475,50],[0.506,-1.480,50],[0.490,-1.496,50],[0.470,-1.504,50],[0.504,-1.514,50],
[0.292,-1.504,50],[0.330,-1.501,50],[0.355,-1.511,50],[0.306,-1.514,50],[0.330,-1.542,50],[0.268,-1.567,50],[0.298,-1.578,50],
[0.288,-1.632,50],[0.264,-1.651,50],[0.225,-1.698,50],[0.181,-1.713,50],[0.144,-1.755,50],[0.187,-1.762,50],[0.153,-1.779,50]
];

const zTicks = [0, 1, 2, 3, 4, 5];
const upperLogTicks = [-1.6, -1.4, -1.2, -1.0, -0.8, -0.6, -0.4];
const lowerLogTicks = [-1.8, -1.6, -1.4, -1.2, -1.0, -0.8, -0.6];
const snrTicks = [10, 15, 20, 25, 30, 35, 40, 45, 50];

// Stops of the "jet" colour map.
const jetStops = [0, 0.11, 0.125, 0.34, 0.35, 0.375, 0.64, 0.65, 0.66, 0.89, 0.91, 1];
const jetColors = ["#00007f", "#0000ff", "#0000ff", "#00d8ff", "#00e5f7", "#07ffef", "#f0ff07",
                   "#f7f000", "#ffe500", "#ff1a00", "#e60000", "#7f0000"];
const jet = d3.scaleLinear().domain(jetStops).range(jetColors).clamp(true);

const snrScale = d3.scaleLinear().domain([8, 50]).clamp(true);
const snrColor = s => jet(snrScale(s));

const svg = d3.select("#chart");
const left = 108, right = 987;
const lineWidth = 1.7, tickLength = 8;

// Wide minus sign and digits, so labels read like the typeset axis numbers.
function styleTickLabel(selection, size) {
  selection.each(function () {
    const label = d3.select(this);
    const str = label.text();
    label.text(null).attr("font-size", size);
    if (str.startsWith("\u2212")) {
      label.append("tspan").attr("font-family", "DejaVu Sans").attr("font-size", size * 0.9).text("\u2212");
      label.append("tspan").text(str.slice(1));
    } else {
      label.text(str);
    }
  });
}

function styleAxis(g) {
  g.select(".domain").remove();
  g.selectAll(".tick line").attr("stroke", "#000").attr("stroke-width", 1.5);
}

function drawPanel(opts) {
  const x = d3.scaleLinear().domain([-0.092, 5.128]).range([left, right]);
  const y = d3.scaleLinear().domain(opts.logDomain).range([opts.top, opts.bottom]);
  const g = svg.append("g");

  g.append("g").selectAll("circle")
    .data(opts.rows)
    .join("circle")
    .attr("cx", d => x(d[0]))
    .attr("cy", d => y(d[1]))
    .attr("r", 5.4)
    .attr("fill", d => snrColor(d[2]));

  const fmt = d => d3.format(".1f")(d).replace("-", "\u2212");
  const bottomAxis = g.append("g").attr("transform", `translate(0,${opts.bottom})`)
    .call(d3.axisBottom(x).tickValues(zTicks).tickSize(-tickLength).tickPadding(9).tickFormat(d3.format("d")));
  bottomAxis.call(styleAxis);
  bottomAxis.selectAll("text").call(styleTickLabel, 25);

  const topAxis = g.append("g").attr("transform", `translate(0,${opts.top})`)
    .call(d3.axisTop(x).tickValues(zTicks).tickSize(-tickLength).tickFormat(""));
  topAxis.call(styleAxis);

  const leftAxis = g.append("g").attr("transform", `translate(${left},0)`)
    .call(d3.axisLeft(y).tickValues(opts.logTicks).tickSize(-tickLength).tickPadding(9).tickFormat(fmt));
  leftAxis.call(styleAxis);
  leftAxis.selectAll("text").call(styleTickLabel, 25);

  const rightAxis = g.append("g").attr("transform", `translate(${right},0)`)
    .call(d3.axisRight(y).tickValues(opts.logTicks).tickSize(-tickLength).tickFormat(""));
  rightAxis.call(styleAxis);

  g.append("rect").attr("x", left).attr("y", opts.top)
    .attr("width", right - left).attr("height", opts.bottom - opts.top)
    .attr("fill", "none").attr("stroke", "#000").attr("stroke-width", lineWidth);

  // Axis titles
  g.append("text").attr("x", 548).attr("y", opts.bottom + 65)
    .attr("text-anchor", "middle").attr("font-size", 31).attr("font-style", "italic").text("z");

  const cy = (opts.top + opts.bottom) / 2;
  const title = g.append("text")
    .attr("transform", `translate(27,${cy}) rotate(-90)`)
    .attr("text-anchor", "middle").attr("font-size", 34).attr("letter-spacing", 0.7);
  title.append("tspan").text("log");
  title.append("tspan").attr("font-size", 24).attr("dy", 7).text("10");
  title.append("tspan").attr("dy", -7).text("(");
  title.append("tspan").attr("font-style", "italic").text("\u03c3");
  title.append("tspan").attr("font-style", "italic").attr("font-size", 24).attr("dy", 6).text("d");
  title.append("tspan").attr("font-size", 18).attr("dy", 4).text("L");
  title.append("tspan").attr("dy", -10).text("/");
  title.append("tspan").attr("font-style", "italic").text("d");
  title.append("tspan").attr("font-size", 24).attr("dy", 6).text("L");
  title.append("tspan").attr("dy", -6).text(")");

  drawColorbar(opts.barTop, opts.gradientId);
}

function drawColorbar(top, gradientId) {
  const height = 45;
  const s = d3.scaleLinear().domain([8, 50]).range([left, right]);
  const defs = svg.append("defs");
  const grad = defs.append("linearGradient").attr("id", gradientId)
    .attr("x1", 0).attr("x2", 1).attr("y1", 0).attr("y2", 0);
  grad.selectAll("stop").data(jetStops).join("stop")
    .attr("offset", d => d)
    .attr("stop-color", d => jet(d));

  const g = svg.append("g");
  g.append("rect").attr("x", left).attr("y", top).attr("width", right - left).attr("height", height)
    .attr("fill", `url(#${gradientId})`).attr("stroke", "#000").attr("stroke-width", lineWidth);

  const axis = g.append("g").attr("transform", `translate(0,${top + height})`)
    .call(d3.axisBottom(s).tickValues(snrTicks).tickSize(-tickLength).tickPadding(8).tickFormat(d3.format("d")));
  axis.call(styleAxis);
  axis.selectAll("text").call(styleTickLabel, 25);

  g.append("text").attr("x", 548).attr("y", top + height + 68)
    .attr("text-anchor", "middle").attr("font-size", 35)
    .style("font-family", "'DejaVu Sans'").text("SNR");
}

drawPanel({
  rows: [...upperCrowdFar, ...upperCrowdRim, ...upperCrowdCentre, ...upperCrowdNear, ...upperMid, ...upperFar, ...upperDense, ...upperLow],
  logDomain: [-0.2515, -1.753],
  logTicks: upperLogTicks,
  top: 1, bottom: 459,
  barTop: 557.5,
  gradientId: "snrUpper"
});

drawPanel({
  rows: [...lowerCrowdFar, ...lowerCrowdPale, ...lowerCrowdUpper, ...lowerCrowdNear, ...lowerMid, ...lowerFar, ...lowerDense, ...lowerLow],
  logDomain: [-0.443, -1.842],
  logTicks: lowerLogTicks,
  top: 772, bottom: 1230,
  barTop: 1328,
  gradientId: "snrLower"
});
</script>
</body>
</html>
